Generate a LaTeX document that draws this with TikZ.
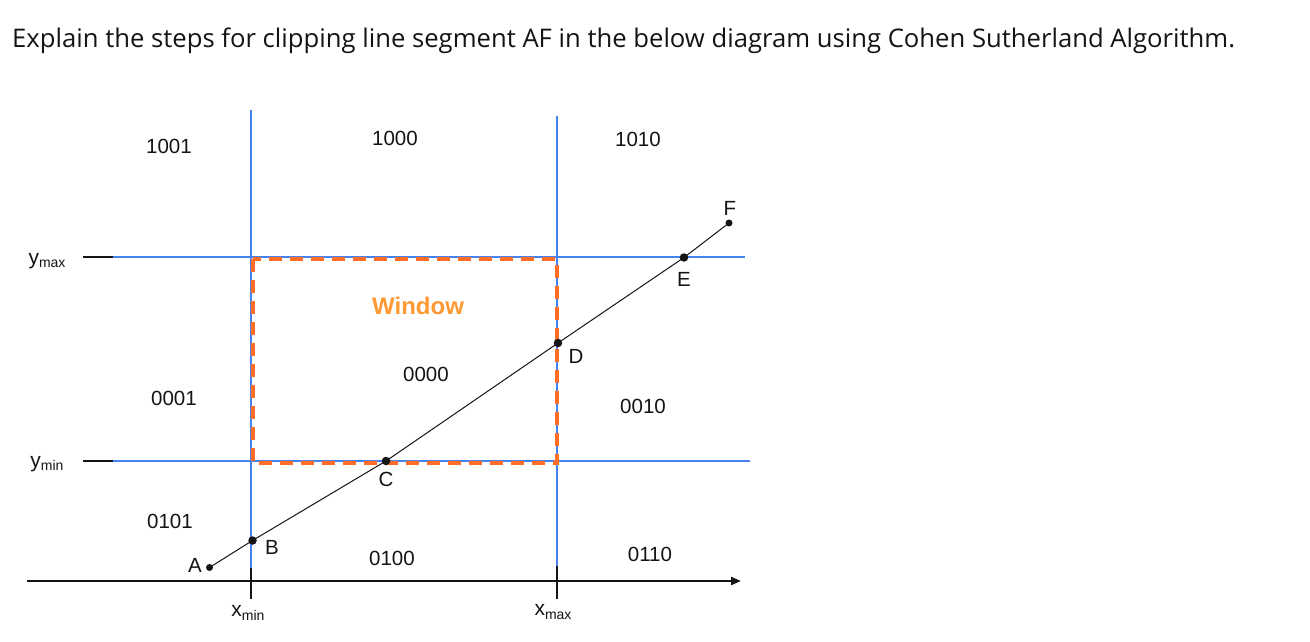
\documentclass[tikz,border=0pt]{standalone}
\usepackage{fontspec}
\setmainfont{Liberation Sans}
\newfontfamily\titlefont{Open Sans}
\usetikzlibrary{arrows.meta}
\definecolor{gridblue}{RGB}{70,130,240}
\definecolor{winorange}{RGB}{255,109,38}
\definecolor{wintext}{RGB}{255,153,51}
\definecolor{ink}{RGB}{20,20,20}
\tikzset{
  gridline/.style={draw=gridblue, line width=2pt},
  blackline/.style={draw=ink, line width=2.4pt},
  winbox/.style={draw=winorange, line width=3.4pt, dash pattern=on 13pt off 8pt},
  seg/.style={draw=ink, line width=1pt},
  dot/.style={circle, fill=ink, inner sep=0pt, minimum size=8.5pt},
  code/.style={font=\fontsize{20.5}{22}\selectfont, text=ink, inner sep=0pt},
  ptlabel/.style={font=\fontsize{20.5}{22}\selectfont, text=ink, inner sep=0pt},
  axlabel/.style={font=\fontsize{21}{22}\selectfont, text=ink, inner sep=0pt}
}
\newcommand{\subs}[1]{\raisebox{-3.5pt}{\fontsize{14}{14}\selectfont #1}}
\begin{document}
\begin{tikzpicture}[x=1pt, y=-1pt]
\path[use as bounding box] (0,0) rectangle (1310,642);
% title
\node[anchor=base west, inner sep=0pt, font=\titlefont\fontsize{25.65}{28}\selectfont, text=ink] (title) at (12,48)
  {Explain the steps for clipping line segment AF in the below diagram using Cohen Sutherland Algorithm.};
% grid lines
\draw[gridline] (251,110) -- (251,574);
\draw[gridline] (557,116) -- (557,574);
\draw[gridline] (111,257) -- (745,257);
\draw[gridline] (111,461) -- (750,461);
\draw[blackline] (83,257) -- (113,257);
\draw[blackline] (83,461) -- (113,461);
% axis
\draw[blackline, -{Triangle[length=10pt,width=8pt]}] (27,581) -- (741,581);
\draw[blackline] (251,568) -- (251,599);
\draw[blackline] (557,566) -- (557,599);
% window
\draw[winbox] (253,259) rectangle (557,463);
\node[font=\bfseries\fontsize{24}{26}\selectfont, text=wintext, inner sep=0pt] (win) at (418,306) {Window};
% region codes
\node[code] (r1001) at (169,146) {1001};
\node[code] (r1000) at (395,138) {1000};
\node[code] (r1010) at (638,139) {1010};
\node[code] (r0001) at (174,398) {0001};
\node[code] (r0000) at (426,374) {0000};
\node[code] (r0010) at (643,406) {0010};
\node[code] (r0101) at (170,521) {0101};
\node[code] (r0100) at (392,558) {0100};
\node[code] (r0110) at (650,554) {0110};
% axis labels
\node[axlabel] (ymax) at (47,261) {y\subs{max}};
\node[axlabel] (ymin) at (47,464) {y\subs{min}};
\node[axlabel] (xmin) at (248,613) {x\subs{min}};
\node[axlabel] (xmax) at (553,612) {x\subs{max}};
% points
\node[dot, minimum size=7pt] (A) at (209.5,567.5) {};
\node[dot] (B) at (252.5,540.5) {};
\node[dot] (C) at (386,461) {};
\node[dot] (D) at (558,343) {};
\node[dot] (E) at (684,257.5) {};
\node[dot, minimum size=7pt] (F) at (729,223) {};
\draw[seg] (A.center) -- (B.center) -- (C.center) -- (D.center) -- (E.center) -- (F.center);
\node[ptlabel] (lA) at (195,565) {A};
\node[ptlabel] (lB) at (272,547) {B};
\node[ptlabel] (lC) at (386,479) {C};
\node[ptlabel] (lD) at (576,356) {D};
\node[ptlabel] (lE) at (684,279) {E};
\node[ptlabel] (lF) at (730,208) {F};
\end{tikzpicture}
\end{document}
